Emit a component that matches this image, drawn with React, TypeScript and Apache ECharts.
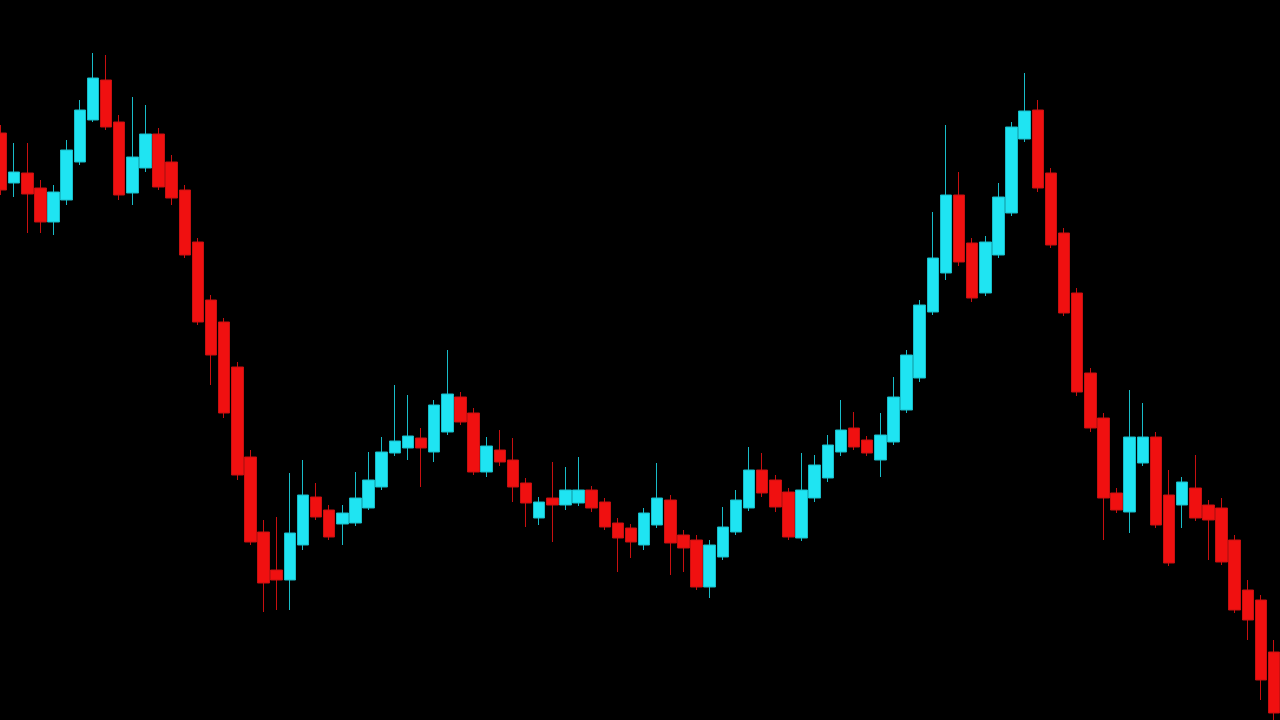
import React, { useEffect, useRef } from "react";
import * as echarts from "echarts";

// Candle values (price units)
const opens = [
  598, 587, 537, 547, 532, 498, 520, 558, 600, 640,
  598, 527, 552, 586, 558, 530, 478, 420, 398, 353,
  263, 188, 150, 140, 175, 223, 210, 196, 197, 212,
  233, 267, 272, 282, 268, 288, 323, 307, 248, 270,
  260, 237, 202, 222, 215, 217, 230, 218, 197, 192,
  175, 195, 220, 185, 180, 133, 163, 188, 212, 250,
  240, 228, 182, 222, 242, 268, 292, 280, 260, 278,
  310, 342, 408, 447, 525, 477, 427, 465, 507, 581,
  610, 547, 487, 427, 347, 302, 227, 208, 257, 283,
  225, 215, 232, 215, 212, 180, 130, 120, 68,
];
const closes = [
  563, 530, 548, 526, 498, 528, 570, 610, 642, 593,
  525, 563, 586, 533, 522, 465, 398, 365, 307, 245,
  178, 137, 140, 187, 225, 203, 183, 207, 222, 240,
  268, 279, 284, 272, 315, 326, 298, 248, 274, 258,
  233, 217, 218, 215, 230, 230, 212, 193, 182, 178,
  207, 222, 177, 172, 133, 175, 193, 220, 250, 227,
  213, 183, 230, 255, 275, 290, 273, 267, 285, 323,
  365, 415, 462, 525, 458, 422, 478, 523, 593, 609,
  532, 475, 407, 328, 292, 222, 210, 283, 283, 195,
  157, 238, 202, 200, 158, 110, 100, 40, 7,
];
const lows = [
  560, 525, 523, 487, 487, 485, 515, 555, 598, 590,
  520, 515, 548, 530, 515, 462, 395, 335, 302, 240,
  175, 108, 110, 110, 170, 200, 180, 175, 194, 210,
  230, 264, 260, 233, 258, 285, 295, 245, 243, 254,
  218, 193, 195, 178, 210, 214, 208, 190, 148, 162,
  170, 192, 145, 148, 130, 122, 160, 185, 209, 223,
  208, 180, 179, 218, 238, 264, 270, 264, 243, 275,
  307, 338, 405, 440, 454, 418, 424, 462, 504, 578,
  528, 472, 404, 324, 288, 180, 207, 187, 254, 192,
  154, 192, 199, 160, 155, 107, 80, 20, 0,
];
const highs = [
  623, 595, 577, 577, 540, 535, 580, 620, 667, 665,
  605, 623, 615, 592, 565, 535, 482, 425, 402, 358,
  270, 200, 203, 247, 260, 237, 215, 215, 248, 268,
  283, 335, 325, 292, 320, 370, 328, 312, 283, 290,
  282, 242, 223, 258, 253, 263, 234, 222, 202, 196,
  212, 257, 225, 190, 185, 180, 213, 230, 273, 267,
  245, 232, 267, 265, 285, 320, 308, 284, 307, 343,
  370, 420, 508, 595, 548, 482, 484, 537, 598, 647,
  620, 552, 492, 432, 352, 307, 232, 330, 317, 288,
  250, 243, 265, 220, 222, 185, 140, 125, 80,
];
const categories = opens.map((_, i) => String(i + 1));

const UP = "#1fe4f2";
const DOWN = "#f01010";
const UP_EDGE = "#18bcc8";
const DOWN_EDGE = "#c81010";

export default function App() {
  const ref = useRef<HTMLDivElement>(null);
  useEffect(() => {
    if (!ref.current) return;
    const chart = echarts.init(ref.current, null, { renderer: "svg" });
    chart.setOption({
      animation: false,
      backgroundColor: "#000000",
      grid: { left: 0, right: 6, top: 0, bottom: 0 },
      xAxis: {
        type: "category",
        data: categories,
        boundaryGap: false,
        show: false,
      },
      yAxis: { type: "value", min: 0, max: 720, show: false },
      series: [
        {
          type: "candlestick",
          data: opens.map((o, i) => [o, closes[i], lows[i], highs[i]]),
          barWidth: 12,
          itemStyle: {
            color: UP,
            color0: DOWN,
            borderColor: UP_EDGE,
            borderColor0: DOWN_EDGE,
            borderWidth: 1,
          },
        },
      ],
    });
    return () => chart.dispose();
  }, []);
  return (
    <div style={{ position: "fixed", left: 0, top: 0, width: 1280, height: 720, background: "#000", overflow: "hidden" }}>
      <div
        ref={ref}
        style={{
          position: "absolute",
          left: -12,
          top: 0,
          width: 1292,
          height: 720,
          background: "#000",
        }}
      />
    </div>
  );
}
